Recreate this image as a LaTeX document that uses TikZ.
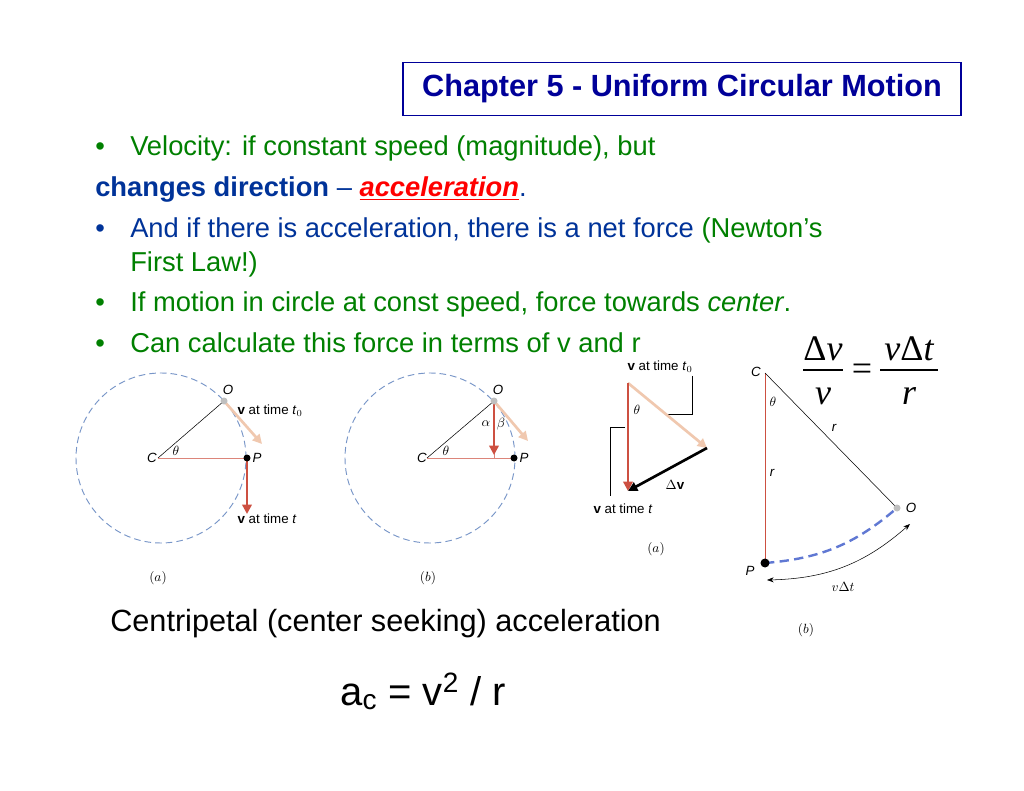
\documentclass[tikz,border=0pt]{standalone}
\usepackage{fontspec}
\setmainfont{Liberation Sans}
\newfontfamily\serifx{Liberation Serif}
\usetikzlibrary{arrows.meta}
\definecolor{tgreen}{RGB}{0,128,0}
\definecolor{tblue}{RGB}{0,51,153}
\definecolor{navy}{RGB}{0,0,153}
\definecolor{dblue}{RGB}{120,150,200}
\definecolor{peach}{RGB}{240,200,175}
\definecolor{rred}{RGB}{205,80,65}
\tikzset{
 body/.style={anchor=base west,font=\fontsize{20.5}{23}\selectfont,inner sep=0},
 lab/.style={font=\fontsize{10}{11}\selectfont\itshape,inner sep=1pt},
 vlab/.style={font=\fontsize{10}{11}\selectfont,inner sep=1pt},
 circ/.style={dblue,dashed,dash pattern=on 5pt off 3pt,line width=0.7pt},
 pe/.style={peach,line width=2pt,-{Triangle[length=7pt,width=7pt]}},
 re/.style={rred,line width=2pt,-{Triangle[length=7pt,width=7pt]}},
 fr/.style={font=\fontsize{27}{30}\selectfont\serifx,inner sep=0},
}
\begin{document}
\begin{tikzpicture}[x=0.75pt,y=-0.75pt]
\useasboundingbox (0,0) rectangle (1024,791);
\fill[white] (0,0) rectangle (1024,791);
% title
\node[draw=navy,line width=1pt,minimum width=558*0.75pt,minimum height=53*0.75pt,text=navy,font=\fontsize{23}{26}\selectfont\bfseries] (title) at (682,89) {Chapter 5 - Uniform Circular Motion};
% bullets
\node[body,text=tgreen] (b1) at (95,156) {•};
\node[body,text=tgreen] (t1) at (130,156) {Velocity: if constant speed (magnitude), but};
\node[body] (t2) at (95,197) {\textcolor{tblue}{\bfseries changes direction} \textcolor{tblue}{--} \textcolor{red}{\bfseries\itshape\underline{acceleration}}\textcolor{tblue}{.}};
\node[body,text=tblue] (b3) at (95,238) {•};
\node[body] (t3) at (130,238) {\textcolor{tblue}{And if there is acceleration, there is a net force} \textcolor{tgreen}{(Newton’s}};
\node[body,text=tgreen] (t3b) at (130,272) {First Law!)};
\node[body,text=tgreen] (b4) at (95,312) {•};
\node[body,text=tgreen] (t4) at (130,312) {If motion in circle at const speed, force towards \textit{center}.};
\node[body,text=tgreen] (b5) at (95,353) {•};
\node[body,text=tgreen] (t5) at (130,353) {Can calculate this force in terms of v and r};
\node[anchor=base west,inner sep=0,font=\fontsize{23}{26}\selectfont] (cent) at (110,631) {Centripetal (center seeking) acceleration};
\node[anchor=base west,inner sep=0,font=\fontsize{30}{34}\selectfont] (ac) at (340,705) {a\textsubscript{c} = v\textsuperscript{2} / r};
% formula
\node[fr,anchor=base] (n1) at (823,361) {Δ\itshape v};
\node[fr,anchor=base] (d1) at (823,404) {\itshape v};
\node[fr,anchor=base] (eq) at (862,380) {=};
\node[fr,anchor=base] (n2) at (909,361) {\itshape v\upshape Δ\itshape t};
\node[fr,anchor=base] (d2) at (909,404) {\itshape r};
\draw[line width=1pt] (803,370) -- (843,370);
\draw[line width=1pt] (880,370) -- (938,370);
% figure (a) left
\coordinate (C1) at (158,458); \coordinate (P1) at (247,458); \coordinate (O1) at (224,401);
\draw[circ] (161,458) circle[radius=85*0.75pt];
\draw (C1) -- (O1);
\draw[rred!70,line width=0.6pt] (C1) -- (P1);
\draw[pe] (O1) -- (262,444);
\draw[re] (P1) -- (247,514);
\fill[gray!50] (O1) circle[radius=3.5*0.75pt];
\fill (P1) circle[radius=3.5*0.75pt];
\node[lab] (cl1) at (152,458) {C};
\node[lab] (ol1) at (228,390) {O};
\node[lab] (pl1) at (257,458) {P};
\node[lab] (th1) at (176,451) {$\theta$};
\node[vlab,anchor=west] (v01) at (236,411) {\textbf{v} at time \textit{t}$_0$};
\node[vlab,anchor=west] (vt1) at (236,519) {\textbf{v} at time \textit{t}};
\node[lab,font=\fontsize{10}{11}\selectfont\serifx] (ca1) at (158,578) {$(a)$};
% figure (b) left
\coordinate (C2) at (427,458); \coordinate (P2) at (514,458); \coordinate (O2) at (494,401);
\draw[circ] (430,458) circle[radius=85*0.75pt];
\draw (C2) -- (O2);
\draw[rred!70,line width=0.6pt] (C2) -- (P2);
\draw[rred!70,line width=0.6pt] (494,440) -- (494,458);
\draw[pe] (O2) -- (528,441);
\draw[re] (O2) -- (494,455);
\fill[gray!50] (O2) circle[radius=3.5*0.75pt];
\fill (P2) circle[radius=3.5*0.75pt];
\node[lab] (cl2) at (422,458) {C};
\node[lab] (ol2) at (498,390) {O};
\node[lab] (pl2) at (524,458) {P};
\node[lab] (th2) at (446,451) {$\theta$};
\node[lab] (al2) at (486,424) {$\alpha$};
\node[lab] (be2) at (501,424) {$\beta$};
\node[lab,font=\fontsize{10}{11}\selectfont\serifx] (ca2) at (428,578) {$(b)$};
% figure (a) right
\coordinate (T) at (628,383); \coordinate (B) at (628,491); \coordinate (E) at (707,448);
\draw[line width=0.5pt] (692,376) -- (692,414) -- (668,414);
\draw[line width=0.5pt] (625,427) -- (610,427) -- (610,496);
\draw[pe] (T) -- (E);
\draw[re] (T) -- (B);
\draw[line width=2pt,-{Triangle[length=7pt,width=7pt]}] (E) -- (B);
\node[vlab] (v03) at (660,367) {\textbf{v} at time \textit{t}$_0$};
\node[vlab] (vt3) at (623,509) {\textbf{v} at time \textit{t}};
\node[vlab] (dv3) at (675,485) {$\Delta$\textbf{v}};
\node[lab] (th3) at (637,410) {\bfseries$\theta$};
\node[lab,font=\fontsize{10}{11}\selectfont\serifx] (ca3) at (656,549) {$(a)$};
% figure (b) right
\coordinate (C4) at (765,373); \coordinate (P4) at (765,563); \coordinate (O4) at (897,508);
\draw[rred,line width=0.6pt] (C4) -- (P4);
\draw (C4) -- (O4);
\draw[dblue!80!blue,dashed,dash pattern=on 7pt off 4pt,line width=1.8pt] (P4) to[bend right=18] (O4);
\draw[{Stealth[length=5pt]}-{Stealth[length=5pt]},line width=0.4pt] (767,580) to[bend right=20] (910,524);
\fill[gray!50] (O4) circle[radius=3.5*0.75pt];
\fill (P4) circle[radius=4.5*0.75pt];
\node[lab] (cl4) at (756,372) {C};
\node[lab] (ol4) at (911,508) {O};
\node[lab] (pl4) at (750,571) {P};
\node[lab] (r4a) at (834,428) {r};
\node[lab] (r4b) at (772,473) {r};
\node[lab] (th4) at (773,402) {$\theta$};
\node[vlab,font=\fontsize{10}{11}\selectfont\serifx] (vdt) at (843,587) {$v\Delta t$};
\node[lab,font=\fontsize{10}{11}\selectfont\serifx] (ca4) at (806,630) {$(b)$};
\end{tikzpicture}
\end{document}
